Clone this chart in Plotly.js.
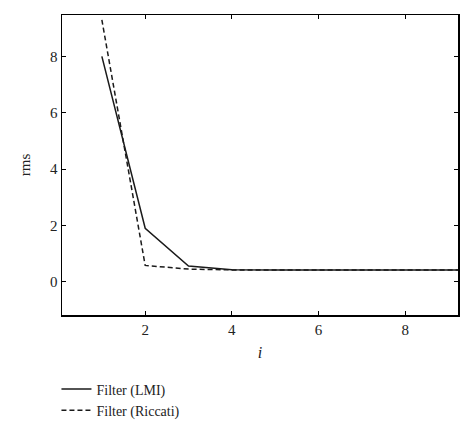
<!DOCTYPE html>
<html>
<head>
<meta charset="utf-8">
<script src="https://cdn.plot.ly/plotly-3.0.1.min.js"></script>
<style>
  html, body { margin: 0; padding: 0; background: #fff; }
  #chart { width: 474px; height: 434px; }
</style>
</head>
<body>
<div id="chart"></div>
<script>
// iteration index and rms values
const iters = [1, 2, 3, 4, 5, 6, 7, 8, 9, 10];
const rmsLMI = [8.0, 1.9, 0.56, 0.43, 0.42, 0.42, 0.42, 0.42, 0.42, 0.42];
const rmsRiccati = [9.3, 0.58, 0.45, 0.42, 0.42, 0.42, 0.42, 0.42, 0.42, 0.42];

const serif = 'Liberation Serif, DejaVu Serif, serif';

const lmiTrace = {
    x: iters,
    y: rmsLMI,
    mode: 'lines',
    name: 'Filter (LMI)',
    line: { color: '#1a1a1a', width: 1.5 }
};
const riccatiTrace = {
    x: iters,
    y: rmsRiccati,
    mode: 'lines',
    name: 'Filter (Riccati)',
    line: { color: '#1a1a1a', width: 1.5, dash: '5px,3px' }
};

const axisCommon = {
    showgrid: false,
    zeroline: false,
    showline: true,
    linecolor: '#000',
    linewidth: 1.5,
    mirror: 'ticks',
    ticks: 'inside',
    ticklen: 4,
    tickwidth: 1,
    tickcolor: '#000',
    automargin: false,
    tickfont: { family: serif, size: 15, color: '#222' }
};

const layout = {
    width: 474,
    height: 434,
    margin: { t: 15, r: 16, l: 62, b: 119, autoexpand: false },
    paper_bgcolor: '#fff',
    plot_bgcolor: '#fff',
    font: { family: serif, color: '#222' },
    showlegend: true,
    legend: {
        x: -0.014, xanchor: 'left',
        y: -0.195, yanchor: 'top',
        font: { family: serif, size: 14, color: '#222' },
        tracegroupgap: 0,
        itemwidth: 30
    },
    xaxis: Object.assign({}, axisCommon, {
        range: [0.08, 9.22],
        tickvals: [2, 4, 6, 8],
        title: { text: '<i>i</i>', font: { family: serif, size: 16, color: '#222' }, standoff: 10 }
    }),
    yaxis: Object.assign({}, axisCommon, {
        range: [-1.18, 9.47],
        tickvals: [0, 2, 4, 6, 8],
        title: { text: 'rms', font: { family: serif, size: 15, color: '#222' }, standoff: 16 }
    })
};

Plotly.newPlot('chart', [lmiTrace, riccatiTrace], layout, { displayModeBar: false, staticPlot: true });
</script>
</body>
</html>
